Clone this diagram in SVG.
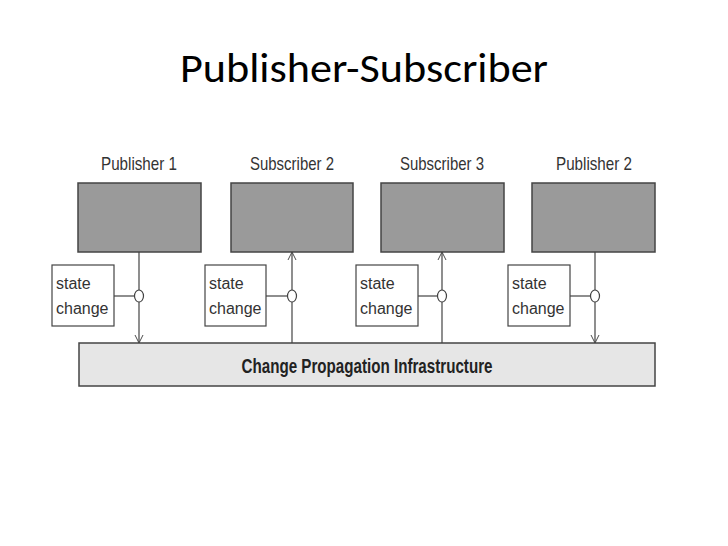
<svg xmlns="http://www.w3.org/2000/svg" width="728" height="546" viewBox="0 0 728 546">
<defs>
<style>
.comp{fill:#9a9a9a;stroke:#444;stroke-width:1.5}
.sc{fill:#fff;stroke:#444;stroke-width:1.2}
.lbl{font-family:"Liberation Sans Narrow","Liberation Sans",Arial,sans-serif;font-size:19px;fill:#333;text-anchor:middle}
.st{font-family:"Liberation Sans Narrow","Liberation Sans",Arial,sans-serif;font-size:16px;fill:#333}
.ln{stroke:#444;stroke-width:1.2;fill:none}
.port{fill:#fff;stroke:#444;stroke-width:1.2}
</style>
<marker id="ah" viewBox="0 0 10 10" refX="10" refY="5" markerWidth="8" markerHeight="10" orient="auto" markerUnits="userSpaceOnUse"><path d="M0,0 L10,5 L0,10" fill="none" stroke="#444" stroke-width="1.2"/></marker>
</defs>
<rect width="728" height="546" fill="#fff"/>
<text x="364" y="82" font-family="Carlito,'Open Sans','Liberation Sans',sans-serif" font-size="40" fill="#000" text-anchor="middle" textLength="368" lengthAdjust="spacingAndGlyphs">Publisher-Subscriber</text>
<g id="infra"><rect x="79" y="343" width="576" height="43" fill="#e6e6e6" stroke="#444" stroke-width="1.5"/>
<text x="367" y="373" font-family="'Liberation Sans Narrow','Liberation Sans',sans-serif" font-size="21" font-weight="bold" fill="#222" text-anchor="middle" textLength="251" lengthAdjust="spacingAndGlyphs">Change Propagation Infrastructure</text></g>
<g id="pub1"><text class="lbl" x="139" y="170" textLength="76" lengthAdjust="spacingAndGlyphs">Publisher 1</text><rect class="comp" x="78" y="183" width="123" height="69"/></g>
<g id="sub2"><text class="lbl" x="292" y="170" textLength="84" lengthAdjust="spacingAndGlyphs">Subscriber 2</text><rect class="comp" x="231" y="183" width="122" height="69"/></g>
<g id="sub3"><text class="lbl" x="442" y="170" textLength="84" lengthAdjust="spacingAndGlyphs">Subscriber 3</text><rect class="comp" x="381" y="183" width="123" height="69"/></g>
<g id="pub2"><text class="lbl" x="594" y="170" textLength="76" lengthAdjust="spacingAndGlyphs">Publisher 2</text><rect class="comp" x="532" y="183" width="123" height="69"/></g>
<g id="sc1"><rect class="sc" x="52" y="265" width="62" height="61"/><text class="st" x="56" y="289">state</text><text class="st" x="56" y="314">change</text></g>
<g id="sc2"><rect class="sc" x="205" y="265" width="61" height="61"/><text class="st" x="209" y="289">state</text><text class="st" x="209" y="314">change</text></g>
<g id="sc3"><rect class="sc" x="356" y="265" width="62" height="61"/><text class="st" x="360" y="289">state</text><text class="st" x="360" y="314">change</text></g>
<g id="sc4"><rect class="sc" x="508" y="265" width="62" height="61"/><text class="st" x="512" y="289">state</text><text class="st" x="512" y="314">change</text></g>
<g id="connectors">
<line class="ln" x1="139" y1="252" x2="139" y2="343" marker-end="url(#ah)"/>
<line class="ln" x1="292" y1="343" x2="292" y2="252" marker-end="url(#ah)"/>
<line class="ln" x1="442" y1="343" x2="442" y2="252" marker-end="url(#ah)"/>
<line class="ln" x1="595" y1="252" x2="595" y2="343" marker-end="url(#ah)"/>
<line class="ln" x1="114" y1="296" x2="135" y2="296"/>
<line class="ln" x1="266" y1="296" x2="288" y2="296"/>
<line class="ln" x1="418" y1="296" x2="438" y2="296"/>
<line class="ln" x1="570" y1="296" x2="591" y2="296"/>
<ellipse class="port" cx="139" cy="296" rx="4.5" ry="6"/>
<ellipse class="port" cx="292" cy="296" rx="4.5" ry="6"/>
<ellipse class="port" cx="442" cy="296" rx="4.5" ry="6"/>
<ellipse class="port" cx="595" cy="296" rx="4.5" ry="6"/>
</g>
</svg>
